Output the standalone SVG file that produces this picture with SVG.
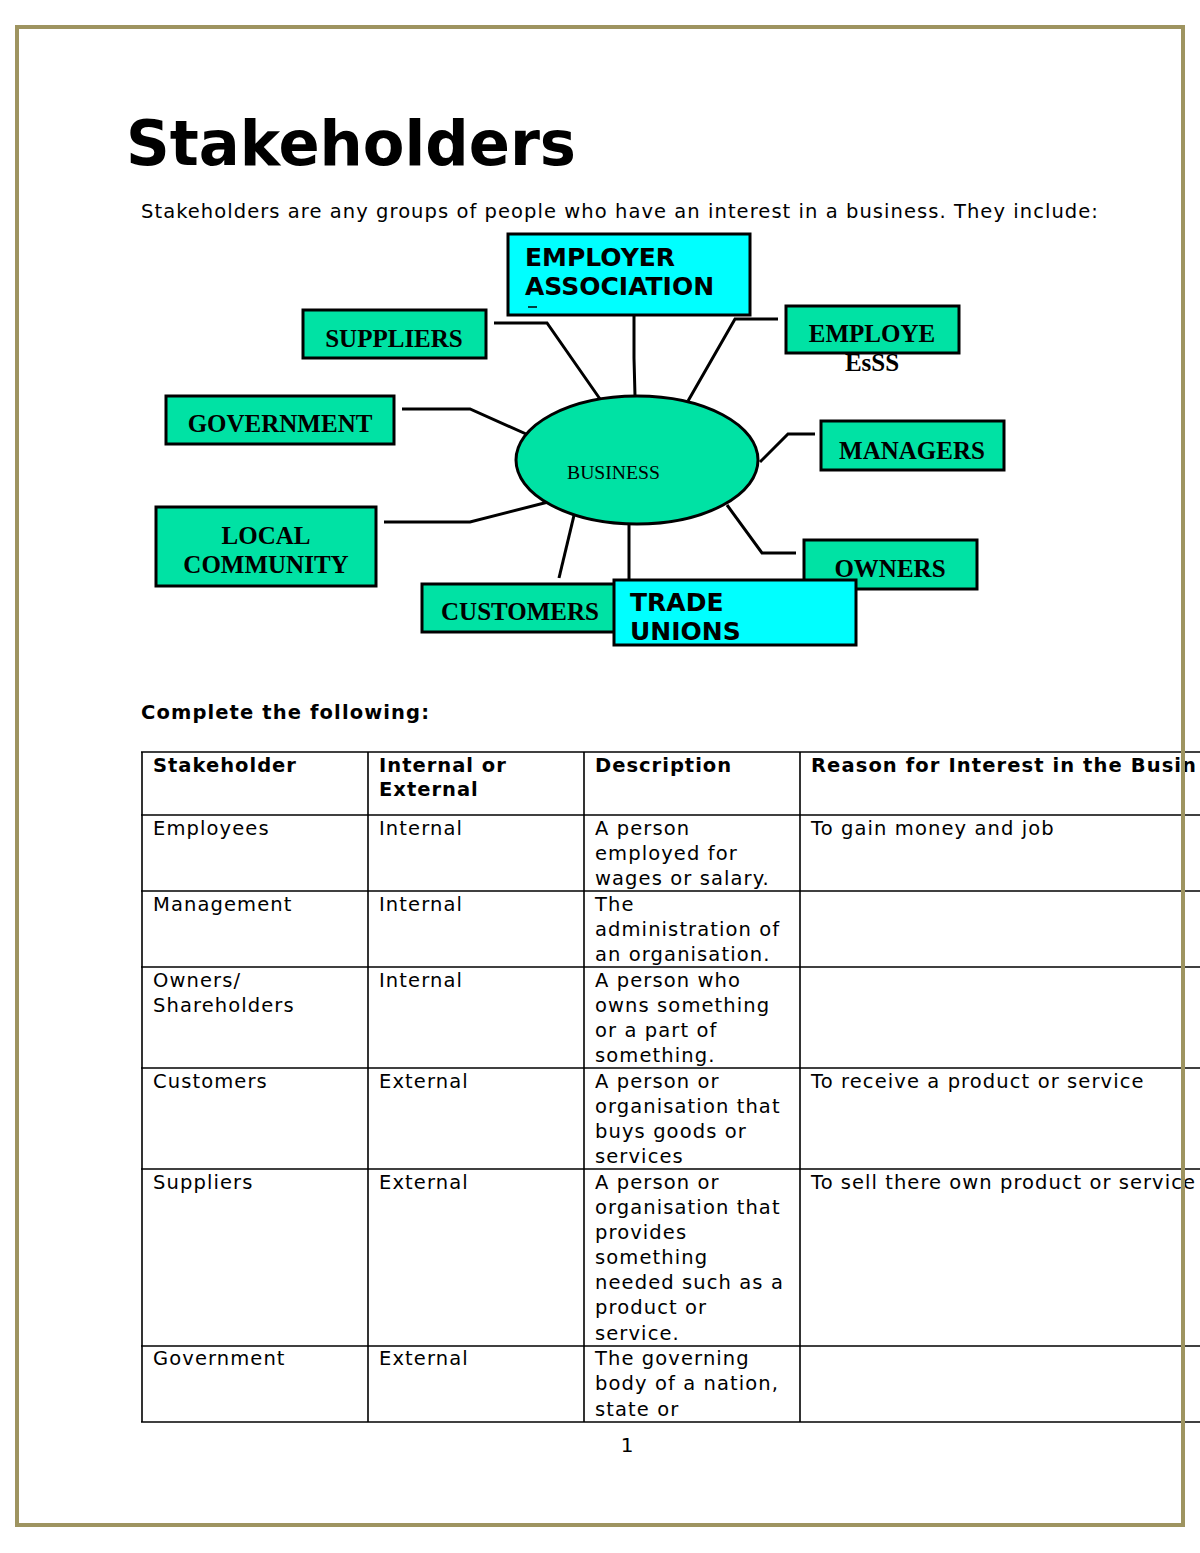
<svg xmlns="http://www.w3.org/2000/svg" width="1200" height="1553" viewBox="0 0 1200 1553">
<style>
.bx{fill:#00e2a4;stroke:#000;stroke-width:3}
.cy{fill:#00ffff;stroke:#000;stroke-width:3}
.sb{font-family:"Liberation Serif","Times New Roman",serif;font-weight:bold;font-size:25px;fill:#000}
.ss{font-family:"DejaVu Sans",sans-serif;font-weight:bold;font-size:25px;fill:#000}
.cn{fill:none;stroke:#000;stroke-width:3;stroke-linejoin:miter}
.tl{stroke:#000;stroke-width:1.6}
.t{font-family:"DejaVu Sans",sans-serif;font-size:19.5px;letter-spacing:1.1px;fill:#000}
.th{font-family:"DejaVu Sans",sans-serif;font-size:19.5px;font-weight:bold;letter-spacing:1px;fill:#000}
</style>
<rect x="0" y="0" width="1200" height="1553" fill="#fff"/>
<text x="126" y="165" font-family="DejaVu Sans,sans-serif" font-weight="bold" font-size="63" textLength="450" lengthAdjust="spacingAndGlyphs">Stakeholders</text>
<text x="141" y="218" class="t" textLength="958" lengthAdjust="spacing">Stakeholders are any groups of people who have an interest in a business. They include:</text>

<g id="connectors">
<polyline class="cn" points="494,323 547,323 600,399"/>
<polyline class="cn" points="634,312 634,358 635,396"/>
<polyline class="cn" points="778,319 735,319 688,401"/>
<polyline class="cn" points="402,409 470,409 535,438"/>
<polyline class="cn" points="815,434 788,434 760,462"/>
<polyline class="cn" points="384,522 470,522 556,500"/>
<polyline class="cn" points="576,507 559,578"/>
<polyline class="cn" points="629,523 629,581"/>
<polyline class="cn" points="727,505 762,553 796,553"/>
</g>

<g id="business">
<ellipse cx="637" cy="460" rx="121" ry="64" class="bx"/>
<text x="567" y="479" font-family="Liberation Serif,serif" font-size="19" textLength="93" lengthAdjust="spacingAndGlyphs">BUSINESS</text>
</g>
<g id="employer-association">
<rect x="508" y="234" width="242" height="81" class="cy"/>
<text x="525" y="266" class="ss">EMPLOYER</text>
<text x="525" y="295" class="ss">ASSOCIATION</text>
<line x1="528" y1="307" x2="537" y2="307" stroke="#000" stroke-width="1.5"/>
</g>
<g id="suppliers">
<rect x="303" y="310" width="183" height="48" class="bx"/>
<text x="394" y="347" class="sb" text-anchor="middle">SUPPLIERS</text>
</g>
<g id="employees">
<rect x="786" y="306" width="173" height="47" class="bx"/>
<text x="872" y="342" class="sb" text-anchor="middle">EMPLOYE</text>
<text x="872" y="371" class="sb" text-anchor="middle">EsSS</text>
</g>
<g id="government">
<rect x="166" y="396" width="228" height="48" class="bx"/>
<text x="280" y="432" class="sb" text-anchor="middle">GOVERNMENT</text>
</g>
<g id="managers">
<rect x="821" y="421" width="183" height="49" class="bx"/>
<text x="912" y="459" class="sb" text-anchor="middle">MANAGERS</text>
</g>
<g id="local-community">
<rect x="156" y="507" width="220" height="79" class="bx"/>
<text x="266" y="544" class="sb" text-anchor="middle">LOCAL</text>
<text x="266" y="573" class="sb" text-anchor="middle">COMMUNITY</text>
</g>
<g id="owners">
<rect x="804" y="540" width="173" height="49" class="bx"/>
<text x="890" y="577" class="sb" text-anchor="middle">OWNERS</text>
</g>
<g id="customers">
<rect x="422" y="584" width="193" height="48" class="bx"/>
<text x="520" y="620" class="sb" text-anchor="middle">CUSTOMERS</text>
</g>
<g id="trade-unions">
<rect x="614" y="580" width="242" height="65" class="cy"/>
<text x="630" y="611" class="ss">TRADE</text>
<text x="630" y="640" class="ss">UNIONS</text>
</g>

<text x="141" y="719" class="th" textLength="289" lengthAdjust="spacing">Complete the following:</text>

<g id="table">
<line class="tl" x1="141" y1="752" x2="1200" y2="752"/>
<line class="tl" x1="141" y1="815" x2="1200" y2="815"/>
<line class="tl" x1="141" y1="891" x2="1200" y2="891"/>
<line class="tl" x1="141" y1="967" x2="1200" y2="967"/>
<line class="tl" x1="141" y1="1068" x2="1200" y2="1068"/>
<line class="tl" x1="141" y1="1169" x2="1200" y2="1169"/>
<line class="tl" x1="141" y1="1346" x2="1200" y2="1346"/>
<line class="tl" x1="141" y1="1422" x2="1200" y2="1422"/>
<line class="tl" x1="142" y1="752" x2="142" y2="1422"/>
<line class="tl" x1="368" y1="752" x2="368" y2="1422"/>
<line class="tl" x1="584" y1="752" x2="584" y2="1422"/>
<line class="tl" x1="800" y1="752" x2="800" y2="1422"/>

<text class="th" x="153" y="772">Stakeholder</text>
<text class="th" x="379" y="772">Internal or</text>
<text class="th" x="379" y="796">External</text>
<text class="th" x="595" y="772">Description</text>
<text class="th" x="811" y="772" textLength="386" lengthAdjust="spacing">Reason for Interest in the Busin</text>

<text class="t" x="153" y="835">Employees</text>
<text class="t" x="379" y="835">Internal</text>
<text class="t" x="595" y="835">A person</text>
<text class="t" x="595" y="860">employed for</text>
<text class="t" x="595" y="885">wages or salary.</text>
<text class="t" x="811" y="835">To gain money and job</text>

<text class="t" x="153" y="911">Management</text>
<text class="t" x="379" y="911">Internal</text>
<text class="t" x="595" y="911">The</text>
<text class="t" x="595" y="936">administration of</text>
<text class="t" x="595" y="961">an organisation.</text>

<text class="t" x="153" y="987">Owners/</text>
<text class="t" x="153" y="1012">Shareholders</text>
<text class="t" x="379" y="987">Internal</text>
<text class="t" x="595" y="987">A person who</text>
<text class="t" x="595" y="1012">owns something</text>
<text class="t" x="595" y="1037">or a part of</text>
<text class="t" x="595" y="1062">something.</text>

<text class="t" x="153" y="1088">Customers</text>
<text class="t" x="379" y="1088">External</text>
<text class="t" x="595" y="1088">A person or</text>
<text class="t" x="595" y="1113">organisation that</text>
<text class="t" x="595" y="1138">buys goods or</text>
<text class="t" x="595" y="1163">services</text>
<text class="t" x="811" y="1088">To receive a product or service</text>

<text class="t" x="153" y="1189">Suppliers</text>
<text class="t" x="379" y="1189">External</text>
<text class="t" x="595" y="1189">A person or</text>
<text class="t" x="595" y="1214">organisation that</text>
<text class="t" x="595" y="1239">provides</text>
<text class="t" x="595" y="1264">something</text>
<text class="t" x="595" y="1289">needed such as a</text>
<text class="t" x="595" y="1314">product or</text>
<text class="t" x="595" y="1340">service.</text>
<text class="t" x="811" y="1189" textLength="385" lengthAdjust="spacing">To sell there own product or service</text>

<text class="t" x="153" y="1365">Government</text>
<text class="t" x="379" y="1365">External</text>
<text class="t" x="595" y="1365">The governing</text>
<text class="t" x="595" y="1390">body of a nation,</text>
<text class="t" x="595" y="1416">state or</text>
</g>

<text x="627" y="1452" text-anchor="middle" font-family="DejaVu Sans,sans-serif" font-size="20">1</text>

<rect x="17" y="27" width="1166" height="1498" fill="none" stroke="#9e9460" stroke-width="4"/>
</svg>
